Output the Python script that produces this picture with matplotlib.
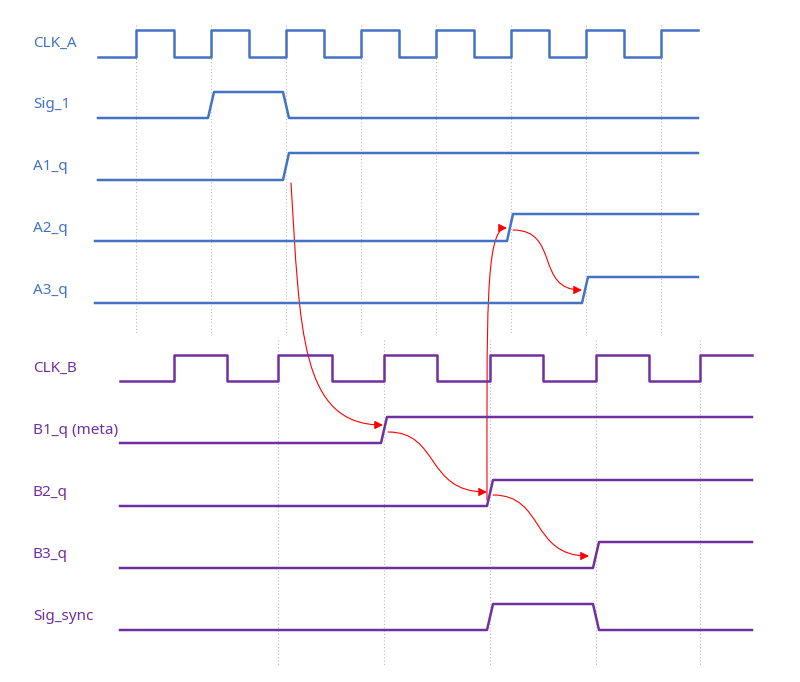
import matplotlib
matplotlib.use("Agg")
import matplotlib.pyplot as plt
from matplotlib.patches import FancyArrowPatch
from matplotlib.path import Path

# ---- data ----
sigA_names = ["CLK_A", "Sig_1", "A1_q", "A2_q", "A3_q"]
sigB_names = ["CLK_B", "B1_q (meta)", "B2_q", "B3_q", "Sig_sync"]
clkA_edges = [136, 174, 211, 249, 286, 324, 361, 399, 436, 474, 511, 549, 586, 624, 661]
clkB_edges = [174, 227, 278, 332, 384, 437, 490, 543, 596, 649, 700]
# (start, end, edge list, low y, high y)
A_rows = [
    (98, 698, clkA_edges, 57, 30),
    (98, 698, [211, 286], 118, 92),
    (98, 698, [286], 180, 153),
    (95, 698, [510], 241, 214),
    (95, 698, [585], 303, 277),
]
B_rows = [
    (120, 752, clkB_edges, 381, 355),
    (120, 752, [384], 443, 417),
    (120, 752, [490], 506, 480),
    (120, 752, [596], 568, 542),
    (120, 752, [490, 596], 630, 604),
]
A_label_y = [43, 105, 167, 228, 290]
B_label_y = [368, 430, 493, 555, 617]
gridA = [136, 211, 286, 361, 436, 511, 586, 661]
gridB = [278, 384, 490, 596, 700]

blue = "#4472C4"
purple = "#7030A0"

fig = plt.figure(figsize=(8, 6.82), dpi=100)
ax = fig.add_axes([0, 0, 1, 1])
ax.set_xlim(0, 800); ax.set_ylim(682, 0); ax.axis("off")

for x in gridA:
    ax.plot([x, x], [25, 335], ls=(0, (1, 2)), color="#bbbbbb", lw=0.8)
for x in gridB:
    ax.plot([x, x], [340, 665], ls=(0, (1, 2)), color="#bbbbbb", lw=0.8)

def draw(rows, clk_first, color):
    for i, (s, e, edges, lo, hi) in enumerate(rows):
        slope = 0 if i == 0 else 3
        xs, ys = [s], [lo]
        lvl = lo
        for t in edges:
            new = hi if lvl == lo else lo
            xs += [t - slope, t + slope]; ys += [lvl, new]
            lvl = new
        xs.append(e); ys.append(lvl)
        ax.plot(xs, ys, color=color, lw=1.8)

draw(A_rows, True, blue)
draw(B_rows, True, purple)
for n, y in zip(sigA_names, A_label_y):
    ax.text(33, y, n, color=blue, fontsize=11, va="center", family="Noto Sans")
for n, y in zip(sigB_names, B_label_y):
    ax.text(33, y, n, color=purple, fontsize=11, va="center", family="Noto Sans")

arrows = [
    [(291, 183), (300, 330), (300, 425), (383, 425)],
    [(388, 432), (440, 432), (425, 492), (487, 492)],
    [(493, 495), (545, 495), (530, 556), (589, 556)],
    [(487, 500), (487, 320), (485, 228), (507, 228)],
    [(513, 230), (560, 230), (535, 290), (582, 290)],
]
for p in arrows:
    path = Path(p, [Path.MOVETO, Path.CURVE4, Path.CURVE4, Path.CURVE4])
    ax.add_patch(FancyArrowPatch(path=path, arrowstyle="-|>,head_length=5,head_width=2.5",
                                 color="red", lw=0.8))

fig.savefig("out.png", dpi=100)
